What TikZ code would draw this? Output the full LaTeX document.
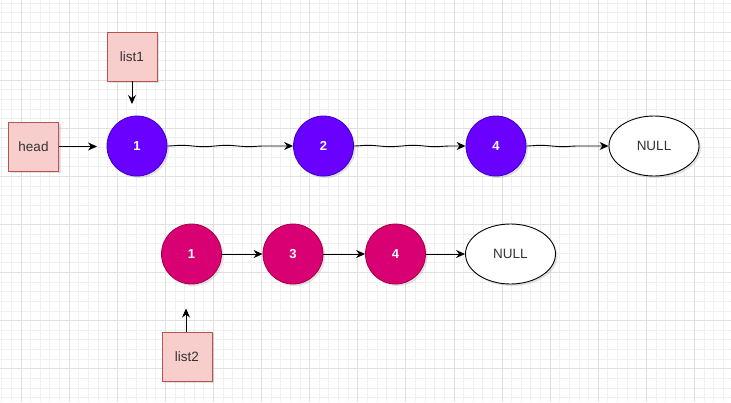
\documentclass[tikz,border=0pt]{standalone}
\usepackage{fontspec}
\setmainfont{Liberation Sans}
\usetikzlibrary{arrows.meta,shadows,decorations.pathmorphing,shapes.geometric}
\definecolor{gridminor}{HTML}{F0F0F0}
\definecolor{gridmajor}{HTML}{E0E0E0}
\definecolor{purfill}{HTML}{6A00FF}
\definecolor{purline}{HTML}{3700CC}
\definecolor{pinkfill}{HTML}{D80073}
\definecolor{pinkline}{HTML}{A50040}
\definecolor{boxfill}{HTML}{F8CECC}
\definecolor{boxline}{HTML}{B85450}
\definecolor{txt}{HTML}{333333}
\tikzset{
  shad/.style={drop shadow={opacity=0.22,shadow xshift=2pt,shadow yshift=-2pt}},
  ptr/.style={rectangle,draw=boxline,fill=boxfill,line width=0.9pt,minimum width=50pt,minimum height=49pt,inner sep=0pt,font=\fontsize{13.5}{15}\selectfont,text=txt,shad},
  pnode/.style={circle,draw=purline,fill=purfill,line width=0.8pt,minimum size=60pt,inner sep=0pt,font=\fontsize{13}{15}\selectfont\bfseries,text=white,shad},
  knode/.style={circle,draw=pinkline,fill=pinkfill,line width=0.8pt,minimum size=60pt,inner sep=0pt,font=\fontsize{13}{15}\selectfont\bfseries,text=white,shad},
  nullnode/.style={ellipse,draw=black,fill=white,line width=0.9pt,minimum width=90pt,minimum height=60pt,inner sep=0pt,font=\fontsize{13.5}{15}\selectfont,text=txt,shad},
  link/.style={draw=black,line width=0.9pt,-{Stealth[length=9pt,width=8pt]}},
  wavy/.style={link,decoration={snake,amplitude=0.7pt,segment length=45pt,post length=10pt},decorate},
}
\begin{document}
\begin{tikzpicture}[x=1pt,y=-1pt]
\useasboundingbox (0,0) rectangle (731,402);
\fill[white] (0,0) rectangle (731,402);
% grid
\foreach \i in {-2,...,75} {
  \draw[gridminor,line width=0.8pt] ({21+9.62*\i},0) -- ({21+9.62*\i},402);
}
\foreach \i in {-3,...,41} {
  \draw[gridminor,line width=0.8pt] (0,{32+9.62*\i}) -- (731,{32+9.62*\i});
}
\foreach \i in {0,...,15} {
  \draw[gridmajor,line width=0.8pt] ({21+48.1*\i},0) -- ({21+48.1*\i},402);
}
\foreach \i in {0,...,8} {
  \draw[gridmajor,line width=0.8pt] (0,{32+48.1*\i}) -- (731,{32+48.1*\i});
}
% top row
\node[ptr] (list1) at (132,56.5) {list1};
\node[ptr] (head) at (33.5,146.5) {head};
\node[pnode] (a1) at (137,146) {1};
\node[pnode] (a2) at (323.5,146) {2};
\node[pnode] (a4) at (496,146) {4};
\node[nullnode] (n1) at (654,146) {NULL};
\coordinate (l1end) at (132,104);
\coordinate (hend) at (97,146.5);
\draw[link] (list1) -- (l1end);
\draw[link] (head) -- (hend);
\draw[wavy] (a1) -- (a2);
\draw[wavy] (a2) -- (a4);
\draw[wavy] (a4) -- (n1);
% bottom row
\node[knode] (b1) at (191.5,254) {1};
\node[knode] (b3) at (293,254) {3};
\node[knode] (b4) at (395.5,254) {4};
\node[nullnode] (n2) at (510.5,254) {NULL};
\node[ptr] (list2) at (187,356.5) {list2};
\coordinate (l2end) at (186,308.5);
\draw[link] (b1) -- (b3);
\draw[link] (b3) -- (b4);
\draw[link] (b4) -- (n2);
\draw[link] (list2.north -| l2end) -- (l2end);
\end{tikzpicture}
\end{document}
